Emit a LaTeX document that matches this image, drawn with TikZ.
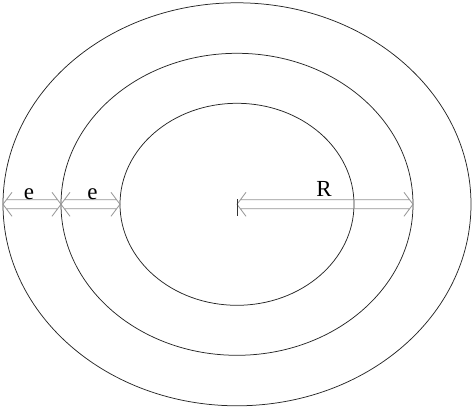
\documentclass[tikz,border=0pt]{standalone}
\usepackage{fontspec}
\setmainfont{Liberation Serif}
\usetikzlibrary{shapes.geometric,calc}
\begin{document}
\begin{tikzpicture}[x=1pt,y=-1pt,
  ring/.style={ellipse, draw=black!85, line width=0.75pt, inner sep=0pt, outer sep=0pt},
  dblarr/.style={draw=black!42, line width=0.8pt, line join=miter,
    to path={
      (\tikztostart) ++(9,-12) -- (\tikztostart) -- ++(9,12)
      (\tikztotarget) ++(-9,-12) -- (\tikztotarget) -- ++(-9,12)
      ($(\tikztostart)+(3.4,-4.5)$) -- ($(\tikztotarget)+(-3.4,-4.5)$)
      ($(\tikztostart)+(3.4,4.5)$) -- ($(\tikztotarget)+(-3.4,4.5)$)
    }},
  lbl/.style={inner sep=0pt, anchor=base, font=\fontsize{23}{23}\selectfont}]
\useasboundingbox (0,0) rectangle (474,409);
\coordinate (c) at (237,204.3);
\node[ring, minimum width=468pt, minimum height=403pt] (outer) at (c) {};
\node[ring, minimum width=352pt, minimum height=302pt] (middle) at (c) {};
\node[ring, minimum width=234pt, minimum height=202pt] (inner) at (c) {};
\draw[dblarr] (outer.west) to (middle.west);
\draw[dblarr] (middle.west) to (inner.west);
\draw[dblarr] (c) to (middle.east);
\draw[black!80, line width=0.8pt] (c) ++(0,-5) -- ++(0,17);
\node[lbl] (e1) at (29,199.5) {e};
\node[lbl] (e2) at (92.5,199.5) {e};
\node[lbl] (R) at (324,196.5) {R};
\end{tikzpicture}
\end{document}
